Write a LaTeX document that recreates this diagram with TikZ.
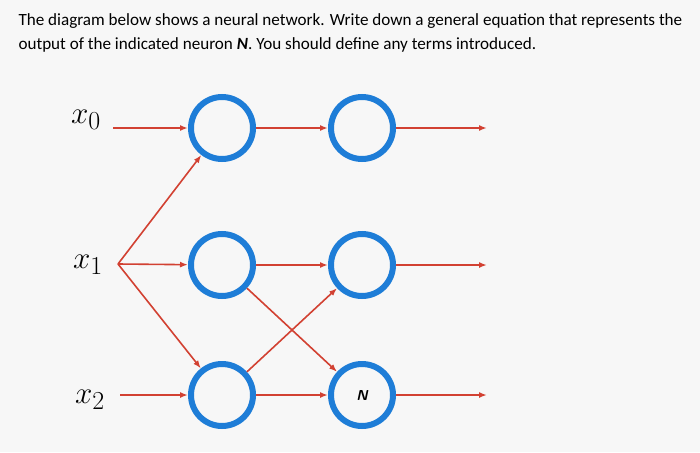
\documentclass[tikz,border=0pt]{standalone}
\usepackage{fontspec}
\setmainfont{Carlito}
\usetikzlibrary{arrows.meta}
\definecolor{nblue}{RGB}{30,125,215}
\definecolor{nred}{RGB}{210,65,50}
\begin{document}
\begin{tikzpicture}[x=1pt,y=-1pt,
  neuron/.style={circle,draw=nblue,line width=6pt,minimum size=62pt,inner sep=0pt},
  conn/.style={draw=nred,line width=1.6pt,-{Latex[length=8pt,width=6pt]}},
  lab/.style={font=\Huge,scale=1.25,transform shape}]
\fill[gray!6] (0,0) rectangle (700,452);
\useasboundingbox (0,0) rectangle (700,452);
\node[anchor=west,align=left,font=\fontsize{17.1}{24}\selectfont] (q) at (15,33)
 {The diagram below shows a neural network. Write down a general equation that represents the\\
 output of the indicated neuron \textbf{\textit{N}}. You should define any terms introduced.};
\node[neuron] (a) at (222,128) {};
\node[neuron] (b) at (362,128) {};
\node[neuron] (c) at (222,265) {};
\node[neuron] (d) at (362,265) {};
\node[neuron] (e) at (222,395) {};
\node[neuron,font=\sffamily\bfseries\itshape\Large] (n) at (362,395) {N};
\node[lab] (x0) at (86,120) {$x_0$};
\node[lab] (x1) at (88,265) {$x_1$};
\node[lab] (x2) at (90,400) {$x_2$};
\coordinate (s0) at (113,128);
\coordinate (j) at (118,264);
\coordinate (s2) at (120,395);
\coordinate (o0) at (487,128);
\coordinate (o1) at (487,265);
\coordinate (o2) at (487,395);
\draw[conn] (s0) -- (a);
\draw[conn] (j) -- (a);
\draw[conn] (j) -- (c);
\draw[conn] (j) -- (e);
\draw[conn] (s2) -- (e);
\draw[conn] (a) -- (b);
\draw[conn] (c) -- (d);
\draw[conn] (c) -- (n);
\draw[conn] (e) -- (d);
\draw[conn] (e) -- (n);
\draw[conn] (b) -- (o0);
\draw[conn] (d) -- (o1);
\draw[conn] (n) -- (o2);
\end{tikzpicture}
\end{document}
